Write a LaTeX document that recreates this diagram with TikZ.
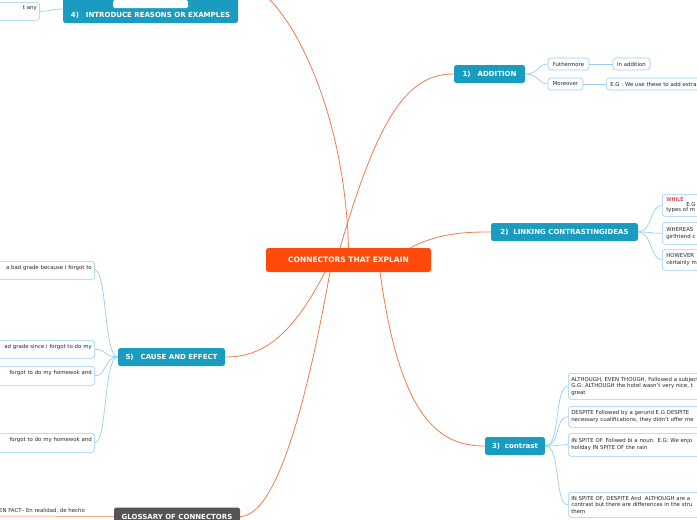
\documentclass[tikz,border=0pt]{standalone}
\usepackage{fontspec}
\setmainfont{DejaVu Sans}
\begin{document}
\begin{tikzpicture}[x=1pt,y=-1pt,
 main/.style={fill=#1,rounded corners=2.5pt,text=white,font=\fontsize{7}{8}\selectfont\bfseries,inner sep=0pt},
 leaf/.style={draw=bl1,line width=0.6pt,rounded corners=3pt,fill=white,font=\fontsize{5.4}{6.6}\selectfont,text=black!85,align=left,inner sep=0pt},
 oc/.style={draw=or1,line width=0.8pt},
 bc/.style={draw=bl1,line width=0.7pt}]
\definecolor{teal1}{HTML}{1A9CC0}
\definecolor{cen}{HTML}{FF4A0B}
\definecolor{or1}{HTML}{F27A4E}
\definecolor{bl1}{HTML}{98CDEE}
\useasboundingbox (0,0) rectangle (697,520);
\clip (0,0) rectangle (697,520);
% main nodes
\node[main=cen,minimum width=165pt,minimum height=24pt,font=\fontsize{7.5}{9}\selectfont\bfseries] (c) at (348.5,260) {CONNECTORS THAT EXPLAIN};
\node[main=teal1,minimum width=71pt,minimum height=18pt] (a) at (489.5,74) {1)\quad ADDITION};
\node[main=teal1,minimum width=147pt,minimum height=18pt] (l) at (564.5,232) {2)\ \ LINKING CONTRASTINGIDEAS};
\node[main=teal1,minimum width=60pt,minimum height=18pt] (k) at (515,446) {3)\ \ contrast};
\node[main=teal1,minimum width=175pt,minimum height=28pt] (r) at (150.5,9) {};
\node[font=\fontsize{7}{8}\selectfont\bfseries,text=white] (rt) at (150.5,15) {4)\quad INTRODUCE REASONS OR EXAMPLES};
\node[fill=white,rounded corners=1.5pt,minimum width=75pt,minimum height=8pt,inner sep=0pt] (rw) at (150.5,4) {};
\node[main=teal1,minimum width=107pt,minimum height=18pt] (e) at (171.5,357) {5)\quad CAUSE AND EFFECT};
\node[main=black!67,minimum width=126pt,minimum height=18pt] (g) at (177,516.5) {GLOSSARY OF CONNECTORS};
% orange connectors
\draw[oc] (c.north) .. controls (345,120) and (300,30) .. (270,0);
\draw[oc] (340,248) .. controls (380,110) and (410,74) .. (a.west);
\draw[oc] (410,248) .. controls (440,232) and (470,232) .. (l.west);
\draw[oc] (380,272) .. controls (400,420) and (440,446) .. (k.west);
\draw[oc] (325,272) .. controls (290,340) and (260,357) .. (e.east);
\draw[oc] (330,272) .. controls (300,440) and (270,516) .. (g.east);
\coordinate (gl) at (0,516);
\draw[oc,line width=0.5pt] (g.west) -- (gl);
\node[font=\fontsize{5.4}{6.6}\selectfont,text=black!85,anchor=west,inner sep=0pt] (gt) at (-1,511) {EN FACT-- En realidad, de hecho};
% addition leaves
\node[leaf,minimum width=41pt,minimum height=12pt] (f1) at (568.5,64) {Futhermore};
\node[leaf,minimum width=37pt,minimum height=12pt] (f2) at (631.5,64) {in addition};
\node[leaf,minimum width=35pt,minimum height=12pt] (m1) at (565.5,84) {Moreover};
\node[leaf,minimum width=100pt,minimum height=12pt,anchor=west,align=left,text width=96pt,inner xsep=4pt] (m2) at (606,84) {E.G : We use these to add extra};
\draw[bc] (a.east) .. controls +(14,0) and +(-10,0) .. (f1.west);
\draw[bc] (a.east) .. controls +(14,0) and +(-10,0) .. (m1.west);
\draw[bc] (f1.east) -- (f2.west);
\draw[bc] (m1.east) -- (m2.west);
% linking leaves
\node[leaf,anchor=north west,minimum width=60pt,minimum height=22pt,text width=52pt,inner xsep=4pt] (w1) at (662,194) {{\color{red!75!black}WHILE}\\[-2pt]\hspace*{20pt}E.G\\[-1pt]types of m};
\node[leaf,anchor=north west,minimum width=60pt,minimum height=22pt,text width=52pt,inner xsep=4pt] (w2) at (662,222) {WHEREAS\\girlfriend c};
\node[leaf,anchor=north west,minimum width=60pt,minimum height=21pt,text width=52pt,inner xsep=4pt] (w3) at (662,249) {HOWEVER\\certainly m};
\foreach \n in {w1,w2,w3} \draw[bc] (l.east) .. controls +(14,0) and +(-12,0) .. (\n.west);
% contrast leaves
\node[leaf,anchor=north west,minimum width=140pt,minimum height=26pt,text width=136pt,inner xsep=3pt] (k1) at (568,373) {ALTHOUGH, EVEN THOUGH, Followed a subject\\G.G: ALTHOUGH the hotel wasn't very nice, t\\great};
\node[leaf,anchor=north west,minimum width=140pt,minimum height=21pt,text width=136pt,inner xsep=3pt] (k2) at (568,406) {DESPITE Followed by a gerund E.G DESPITE\\necessary cualifications, they didn't offer me};
\node[leaf,anchor=north west,minimum width=140pt,minimum height=23pt,text width=136pt,inner xsep=3pt] (k3) at (568,433) {IN SPITE OF. Foliwed bi a noun. E.G: We enjo\\holiday IN SPITE OF the rain};
\node[leaf,anchor=north west,minimum width=140pt,minimum height=25pt,text width=136pt,inner xsep=3pt] (k4) at (568,492) {IN SPITE OF, DESPITE And\ \ ALTHOUGH are a\\contrast but there are differences in the stru\\them};
\foreach \n in {k1,k2,k3,k4} \draw[bc] (k.east) .. controls +(16,0) and +(-14,0) .. (\n.west);
% cause leaves
\node[leaf,anchor=north east,minimum width=120pt,minimum height=18pt,text width=115pt,align=right,inner xsep=3pt] (e1) at (95,261) {a bad grade because i forgot to\hspace*{3pt}\\~};
\node[leaf,anchor=north east,minimum width=120pt,minimum height=18pt,text width=115pt,align=right,inner xsep=3pt] (e2) at (95,340) {ad grade since i forgot to do my\hspace*{3pt}\\~};
\node[leaf,anchor=north east,minimum width=120pt,minimum height=19pt,text width=115pt,align=right,inner xsep=3pt] (e3) at (95,366) {forgot to do my homewok and\hspace*{3pt}\\~};
\node[leaf,anchor=north east,minimum width=120pt,minimum height=19pt,text width=115pt,align=right,inner xsep=3pt] (e4) at (95,433) {forgot to do my homewok and\hspace*{3pt}\\~};
\foreach \n in {e1,e2,e3,e4} \draw[bc] (e.west) .. controls +(-14,0) and +(12,0) .. (\n.east);
% top-left leaf
\node[leaf,anchor=north east,minimum width=80pt,minimum height=18pt,text width=76pt,align=right,inner xsep=3pt] (t1) at (40,2) {t any\hspace{12pt}\\~};
\draw[bc] (r.west) .. controls +(-10,0) and +(10,0) .. (t1.east);
\end{tikzpicture}
\end{document}
